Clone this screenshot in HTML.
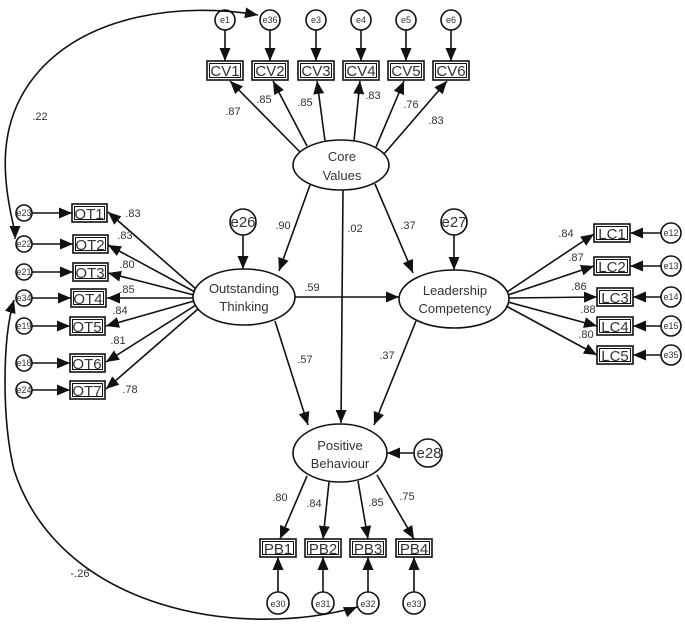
<!DOCTYPE html>
<html><head><meta charset="utf-8"><style>
html,body{margin:0;padding:0;background:#fff;}
svg{display:block;font-family:"Liberation Sans",sans-serif;}
text{fill:#333;}
</style></head><body>
<svg width="685" height="630" viewBox="0 0 685 630" xmlns="http://www.w3.org/2000/svg">
<defs>
<marker id="a" markerUnits="userSpaceOnUse" markerWidth="14" markerHeight="12" refX="13" refY="5.5" orient="auto">
<path d="M0,0 L13,5.5 L0,11 Z" fill="#111"/>
</marker>
</defs>
<g stroke="#111" stroke-width="1.6" fill="none">
<!-- curved covariances -->
<path d="M15,232 C2,180 -5,120 40,70 C90,15 180,2 258,15" marker-end="url(#a)"/>
<path d="M15,238 L15,239" marker-end="url(#a)"/>
<path d="M357,607 C240,640 60,610 14,470 C2,420 2,340 14,300" marker-end="url(#a)"/>
<path d="M350,610 L357,607" marker-end="url(#a)"/>
</g>
<g stroke="#111" stroke-width="1.6" fill="none">
<!-- CV e circles -->
<circle cx="225" cy="20" r="10"/><circle cx="270" cy="20" r="10"/><circle cx="316" cy="20" r="10"/><circle cx="361" cy="20" r="10"/><circle cx="406" cy="20" r="10"/><circle cx="451" cy="20" r="10"/>
<line x1="225" y1="30" x2="225" y2="61" marker-end="url(#a)"/>
<line x1="270" y1="30" x2="270" y2="61" marker-end="url(#a)"/>
<line x1="316" y1="30" x2="316" y2="61" marker-end="url(#a)"/>
<line x1="361" y1="30" x2="361" y2="61" marker-end="url(#a)"/>
<line x1="406" y1="30" x2="406" y2="61" marker-end="url(#a)"/>
<line x1="451" y1="30" x2="451" y2="61" marker-end="url(#a)"/>
<!-- CV boxes -->
<g>
<rect x="207" y="61" width="36" height="19"/><rect x="209.5" y="63.5" width="31" height="14" stroke-width="1"/>
<rect x="252" y="61" width="36" height="19"/><rect x="254.5" y="63.5" width="31" height="14" stroke-width="1"/>
<rect x="298" y="61" width="36" height="19"/><rect x="300.5" y="63.5" width="31" height="14" stroke-width="1"/>
<rect x="343" y="61" width="36" height="19"/><rect x="345.5" y="63.5" width="31" height="14" stroke-width="1"/>
<rect x="388" y="61" width="36" height="19"/><rect x="390.5" y="63.5" width="31" height="14" stroke-width="1"/>
<rect x="433" y="61" width="36" height="19"/><rect x="435.5" y="63.5" width="31" height="14" stroke-width="1"/>
</g>
<!-- Core values ellipse -->
<ellipse cx="341" cy="165" rx="48" ry="25"/>
<line x1="300" y1="152" x2="230" y2="81" marker-end="url(#a)"/>
<line x1="307" y1="146" x2="273" y2="81" marker-end="url(#a)"/>
<line x1="325" y1="141" x2="317" y2="81" marker-end="url(#a)"/>
<line x1="354" y1="141" x2="360" y2="81" marker-end="url(#a)"/>
<line x1="376" y1="147" x2="404" y2="81" marker-end="url(#a)"/>
<line x1="384" y1="154" x2="447" y2="81" marker-end="url(#a)"/>
<!-- structural -->
<line x1="310" y1="185" x2="279" y2="271" marker-end="url(#a)"/>
<line x1="343" y1="190" x2="341" y2="423" marker-end="url(#a)"/>
<line x1="375" y1="184" x2="413" y2="273" marker-end="url(#a)"/>
<line x1="295" y1="297" x2="399" y2="297" marker-end="url(#a)"/>
<line x1="275" y1="321" x2="308" y2="425" marker-end="url(#a)"/>
<line x1="416" y1="321" x2="374" y2="425" marker-end="url(#a)"/>
<!-- OT ellipse -->
<ellipse cx="244" cy="297" rx="51" ry="28"/>
<circle cx="243" cy="222" r="13"/>
<line x1="243" y1="235" x2="243" y2="269" marker-end="url(#a)"/>
<!-- OT boxes -->
<rect x="72" y="204" width="35" height="18"/><rect x="74.5" y="206.5" width="30" height="13" stroke-width="1"/>
<rect x="73" y="235" width="35" height="18"/><rect x="75.5" y="237.5" width="30" height="13" stroke-width="1"/>
<rect x="73" y="263" width="35" height="18"/><rect x="75.5" y="265.5" width="30" height="13" stroke-width="1"/>
<rect x="71" y="289" width="35" height="18"/><rect x="73.5" y="291.5" width="30" height="13" stroke-width="1"/>
<rect x="70" y="317" width="35" height="18"/><rect x="72.5" y="319.5" width="30" height="13" stroke-width="1"/>
<rect x="70" y="354" width="35" height="18"/><rect x="72.5" y="356.5" width="30" height="13" stroke-width="1"/>
<rect x="70" y="381" width="35" height="18"/><rect x="72.5" y="383.5" width="30" height="13" stroke-width="1"/>
<line x1="196" y1="289" x2="108" y2="212" marker-end="url(#a)"/>
<line x1="195" y1="292" x2="108" y2="245" marker-end="url(#a)"/>
<line x1="194" y1="295" x2="108" y2="273" marker-end="url(#a)"/>
<line x1="193" y1="298" x2="107" y2="298" marker-end="url(#a)"/>
<line x1="194" y1="301" x2="106" y2="326" marker-end="url(#a)"/>
<line x1="196" y1="305" x2="106" y2="362" marker-end="url(#a)"/>
<line x1="198" y1="309" x2="106" y2="389" marker-end="url(#a)"/>
<!-- OT e circles -->
<circle cx="24" cy="213" r="8"/><circle cx="24" cy="244" r="8"/><circle cx="24" cy="272" r="8"/><circle cx="24" cy="298" r="8"/><circle cx="24" cy="326" r="8"/><circle cx="24" cy="363" r="8"/><circle cx="24" cy="390" r="8"/>
<line x1="32" y1="213" x2="72" y2="213" marker-end="url(#a)"/>
<line x1="32" y1="244" x2="73" y2="244" marker-end="url(#a)"/>
<line x1="32" y1="272" x2="73" y2="272" marker-end="url(#a)"/>
<line x1="32" y1="298" x2="71" y2="298" marker-end="url(#a)"/>
<line x1="32" y1="326" x2="70" y2="326" marker-end="url(#a)"/>
<line x1="32" y1="363" x2="70" y2="363" marker-end="url(#a)"/>
<line x1="32" y1="390" x2="70" y2="390" marker-end="url(#a)"/>
<!-- LC -->
<ellipse cx="454" cy="299" rx="55" ry="29"/>
<circle cx="454" cy="222" r="13"/>
<line x1="454" y1="235" x2="454" y2="270" marker-end="url(#a)"/>
<rect x="594" y="224" width="36" height="18"/><rect x="596.5" y="226.5" width="31" height="13" stroke-width="1"/>
<rect x="594" y="257" width="36" height="18"/><rect x="596.5" y="259.5" width="31" height="13" stroke-width="1"/>
<rect x="597" y="288" width="36" height="18"/><rect x="599.5" y="290.5" width="31" height="13" stroke-width="1"/>
<rect x="597" y="317" width="36" height="18"/><rect x="599.5" y="319.5" width="31" height="13" stroke-width="1"/>
<rect x="597" y="346" width="36" height="18"/><rect x="599.5" y="348.5" width="31" height="13" stroke-width="1"/>
<line x1="507" y1="292" x2="594" y2="234" marker-end="url(#a)"/>
<line x1="508" y1="295" x2="594" y2="266" marker-end="url(#a)"/>
<line x1="509" y1="298" x2="597" y2="297" marker-end="url(#a)"/>
<line x1="508" y1="302" x2="597" y2="326" marker-end="url(#a)"/>
<line x1="506" y1="306" x2="597" y2="355" marker-end="url(#a)"/>
<circle cx="671" cy="233" r="10"/><circle cx="671" cy="266" r="10"/><circle cx="671" cy="297" r="10"/><circle cx="671" cy="326" r="10"/><circle cx="671" cy="355" r="10"/>
<line x1="661" y1="233" x2="630" y2="233" marker-end="url(#a)"/>
<line x1="661" y1="266" x2="630" y2="266" marker-end="url(#a)"/>
<line x1="661" y1="297" x2="633" y2="297" marker-end="url(#a)"/>
<line x1="661" y1="326" x2="633" y2="326" marker-end="url(#a)"/>
<line x1="661" y1="355" x2="633" y2="355" marker-end="url(#a)"/>
<!-- PB -->
<ellipse cx="340" cy="453" rx="47" ry="29"/>
<circle cx="428" cy="453" r="14"/>
<line x1="414" y1="453" x2="387" y2="453" marker-end="url(#a)"/>
<rect x="260" y="539" width="36" height="18"/><rect x="262.5" y="541.5" width="31" height="13" stroke-width="1"/>
<rect x="305" y="539" width="36" height="18"/><rect x="307.5" y="541.5" width="31" height="13" stroke-width="1"/>
<rect x="350" y="539" width="36" height="18"/><rect x="352.5" y="541.5" width="31" height="13" stroke-width="1"/>
<rect x="396" y="539" width="36" height="18"/><rect x="398.5" y="541.5" width="31" height="13" stroke-width="1"/>
<line x1="307" y1="476" x2="280" y2="539" marker-end="url(#a)"/>
<line x1="329" y1="482" x2="323" y2="539" marker-end="url(#a)"/>
<line x1="358" y1="481" x2="368" y2="539" marker-end="url(#a)"/>
<line x1="377" y1="475" x2="414" y2="539" marker-end="url(#a)"/>
<circle cx="278" cy="603" r="11"/><circle cx="323" cy="603" r="11"/><circle cx="368" cy="603" r="11"/><circle cx="414" cy="603" r="11"/>
<line x1="278" y1="592" x2="278" y2="557" marker-end="url(#a)"/>
<line x1="323" y1="592" x2="323" y2="557" marker-end="url(#a)"/>
<line x1="368" y1="592" x2="368" y2="557" marker-end="url(#a)"/>
<line x1="414" y1="592" x2="414" y2="557" marker-end="url(#a)"/>
</g>
<!-- text -->
<g font-size="9" text-anchor="middle">
<text x="225" y="23">e1</text><text x="270" y="23">e36</text><text x="316" y="23">e3</text><text x="361" y="23">e4</text><text x="406" y="23">e5</text><text x="451" y="23">e6</text>
<text x="24" y="216">e23</text><text x="24" y="247">e22</text><text x="24" y="275">e21</text><text x="24" y="301">e34</text><text x="24" y="329">e19</text><text x="24" y="366">e18</text><text x="24" y="393">e24</text>
<text x="671" y="236">e12</text><text x="671" y="269">e13</text><text x="671" y="300">e14</text><text x="671" y="329">e15</text><text x="671" y="358">e35</text>
<text x="278" y="607">e30</text><text x="323" y="607">e31</text><text x="368" y="607">e32</text><text x="414" y="607">e33</text>
</g>
<g font-size="15" text-anchor="middle">
<text x="225" y="76">CV1</text><text x="270" y="76">CV2</text><text x="316" y="76">CV3</text><text x="361" y="76">CV4</text><text x="406" y="76">CV5</text><text x="451" y="76">CV6</text>
<text x="89" y="219">OT1</text><text x="90" y="250">OT2</text><text x="90" y="278">OT3</text><text x="88" y="304">OT4</text><text x="87" y="332">OT5</text><text x="87" y="369">OT6</text><text x="87" y="396">OT7</text>
<text x="612" y="239">LC1</text><text x="612" y="272">LC2</text><text x="615" y="303">LC3</text><text x="615" y="332">LC4</text><text x="615" y="361">LC5</text>
<text x="278" y="554">PB1</text><text x="323" y="554">PB2</text><text x="368" y="554">PB3</text><text x="414" y="554">PB4</text>
<text x="243" y="227">e26</text><text x="454" y="227">e27</text><text x="429" y="458">e28</text>
</g>
<g font-size="13" text-anchor="middle">
<text x="342" y="161">Core</text><text x="342" y="180">Values</text>
<text x="244" y="293">Outstanding</text><text x="244" y="311">Thinking</text>
<text x="455" y="295">Leadership</text><text x="455" y="313">Competency</text>
<text x="340" y="450">Positive</text><text x="340" y="468">Behaviour</text>
</g>
<g font-size="11" text-anchor="middle">
<text x="40" y="120">.22</text><text x="80" y="577">-.26</text>
<text x="233" y="115">.87</text><text x="264" y="103">.85</text><text x="305" y="106">.85</text><text x="373" y="99">.83</text><text x="411" y="108">.76</text><text x="436" y="124">.83</text>
<text x="133" y="217">.83</text><text x="125" y="239">.83</text><text x="127" y="268">.80</text><text x="127" y="293">.85</text><text x="120" y="314">.84</text><text x="118" y="344">.81</text><text x="130" y="393">.78</text>
<text x="283" y="229">.90</text><text x="355" y="232">.02</text><text x="408" y="229">.37</text><text x="312" y="291">.59</text><text x="305" y="363">.57</text><text x="387" y="359">.37</text>
<text x="566" y="237">.84</text><text x="576" y="261">.87</text><text x="579" y="290">.86</text><text x="588" y="313">.88</text><text x="586" y="338">.80</text>
<text x="280" y="501">.80</text><text x="314" y="507">.84</text><text x="376" y="506">.85</text><text x="407" y="500">.75</text>
</g>
</svg>
</body></html>
